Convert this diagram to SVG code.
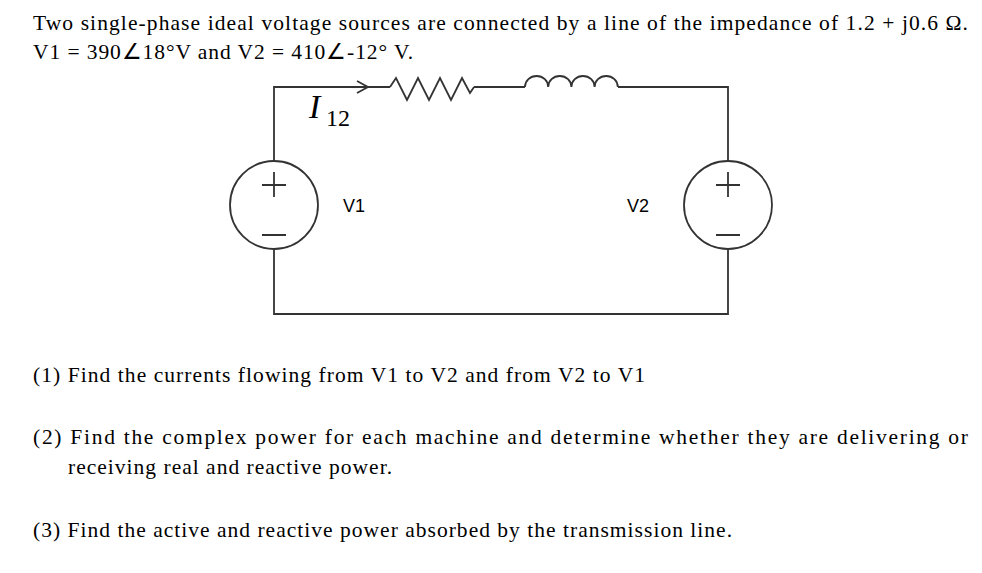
<svg xmlns="http://www.w3.org/2000/svg" width="982" height="573" viewBox="0 0 982 573">
<style>
.t{font-family:"Liberation Serif",serif;font-size:21.5px;fill:#000}
.w{fill:none;stroke:#333;stroke-width:1.8}
.s{font-family:"Liberation Sans",sans-serif;font-size:18px;fill:#000}
</style>
<rect width="982" height="573" fill="#fff"/>
<text class="t" x="33" y="30" textLength="935" lengthAdjust="spacing">Two single-phase ideal voltage sources are connected by a line of the impedance of 1.2 + j0.6 Ω.</text>
<text class="t" x="33" y="59" textLength="380" lengthAdjust="spacing">V1 = 390∠18°V and V2 = 410∠-12°  V.</text>
<g id="connectors">
<path class="w" d="M274,161 V87 H390 M474,87 H525 M618,87 H728 V161 M274,249 V314 H728 V249"/>
<path class="w" d="M390,87 L396,78 L407,100 L418,78 L429,100 L440,78 L451,100 L462,78 L470,93 L474,87"/>
<path class="w" d="M525,87 a11.6,11 0 0 1 23.2,0 a11.6,11 0 0 1 23.2,0 a11.6,11 0 0 1 23.2,0 a11.6,11 0 0 1 23.2,0"/>
<path class="w" d="M342,87 H368 M357,81 L368,87 L357,93"/>
</g>
<text x="309" y="118" font-family="Liberation Serif,serif" font-style="italic" font-size="34">I</text>
<text x="326" y="126" font-family="Liberation Serif,serif" font-size="24">12</text>
<g id="V1src"><circle class="w" cx="274" cy="205" r="44"/><path class="w" d="M274,172 V197 M262,185 H286 M262,235 H286"/></g>
<g id="V2src"><circle class="w" cx="728" cy="205" r="44"/><path class="w" d="M728,172 V197 M716,185 H740 M716,235 H740"/></g>
<text class="s" x="343" y="212">V1</text>
<text class="s" x="627" y="212">V2</text>
<text class="t" x="33" y="382" textLength="612" lengthAdjust="spacing">(1) Find the currents flowing from V1 to V2 and from V2 to V1</text>
<text class="t" x="33" y="444" textLength="935" lengthAdjust="spacing">(2) Find the complex power for each machine and determine whether they are delivering or</text>
<text class="t" x="68" y="474" textLength="324" lengthAdjust="spacing">receiving real and reactive power.</text>
<text class="t" x="33" y="537" textLength="699" lengthAdjust="spacing">(3) Find the active and reactive power absorbed by the transmission line.</text>
</svg>
